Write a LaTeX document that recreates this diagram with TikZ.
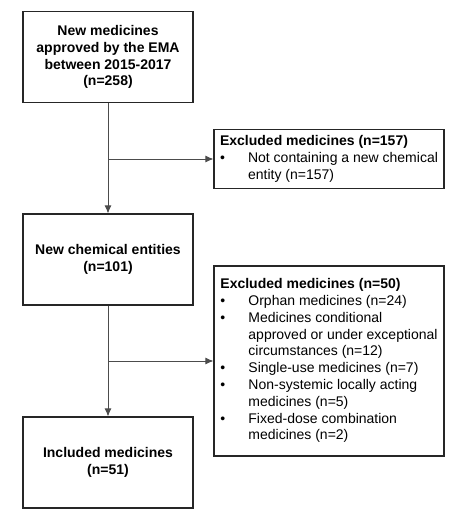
\documentclass[tikz,border=0pt]{standalone}
\usepackage{fontspec}
\setmainfont{Liberation Sans}
\usetikzlibrary{arrows.meta}

\begin{document}
\begin{tikzpicture} [
  x = 1pt,
  y = -1pt,
  font = \fontsize{14}{16.8}\selectfont,
  stagebox/.style = {
    draw = black!85,
    line width = 1.2pt,
    minimum width = 170,
    minimum height = 91,
    align = center,
    font = \fontsize{14}{16.8}\selectfont\bfseries,
  },
  exclbox/.style = {
    draw = black!85,
    line width = 1.2pt,
    minimum width = 230,
    inner sep = 4pt,
    align = left,
  },
  flow/.style = {
    draw = black!70,
    line width = .8pt,
    -{Latex[length = 8pt, width = 7pt]},
  },
]
\useasboundingbox (0, 0) rectangle (474, 520);

\node [stagebox] (new) at (108, 57) {New medicines\\approved by the EMA\\between 2015-2017\\(n=258)};
\node [stagebox] (nce) at (108, 259.5) {New chemical entities\\(n=101)};
\node [stagebox] (incl) at (108, 462.5) {Included medicines\\(n=51)};

\node [exclbox, minimum height = 56] (excla) at (329, 159) {%
\begin{tabular}{@{}p{28pt}@{}l@{}}
\multicolumn{2}{@{}l@{}}{\bfseries Excluded medicines (n=157)}\\
\textbullet & Not containing a new chemical\\
 & entity (n=157)
\end{tabular}};

\node [exclbox, minimum height = 190] (exclb) at (329, 361) {%
\begin{tabular}{@{}p{28pt}@{}l@{}}
\multicolumn{2}{@{}l@{}}{\bfseries Excluded medicines (n=50)}\\
\textbullet & Orphan medicines (n=24)\\
\textbullet & Medicines conditional\\
 & approved or under exceptional\\
 & circumstances (n=12)\\
\textbullet & Single-use medicines (n=7)\\
\textbullet & Non-systemic locally acting\\
 & medicines (n=5)\\
\textbullet & Fixed-dose combination\\
 & medicines (n=2)
\end{tabular}};

\draw [flow] (new) -- (nce);
\draw [flow] (nce) -- (incl);
\draw [flow] (new.south |- excla.west) -- (excla.west);
\draw [flow] (nce.south |- exclb.west) -- (exclb.west);
\end{tikzpicture}
\end{document}
